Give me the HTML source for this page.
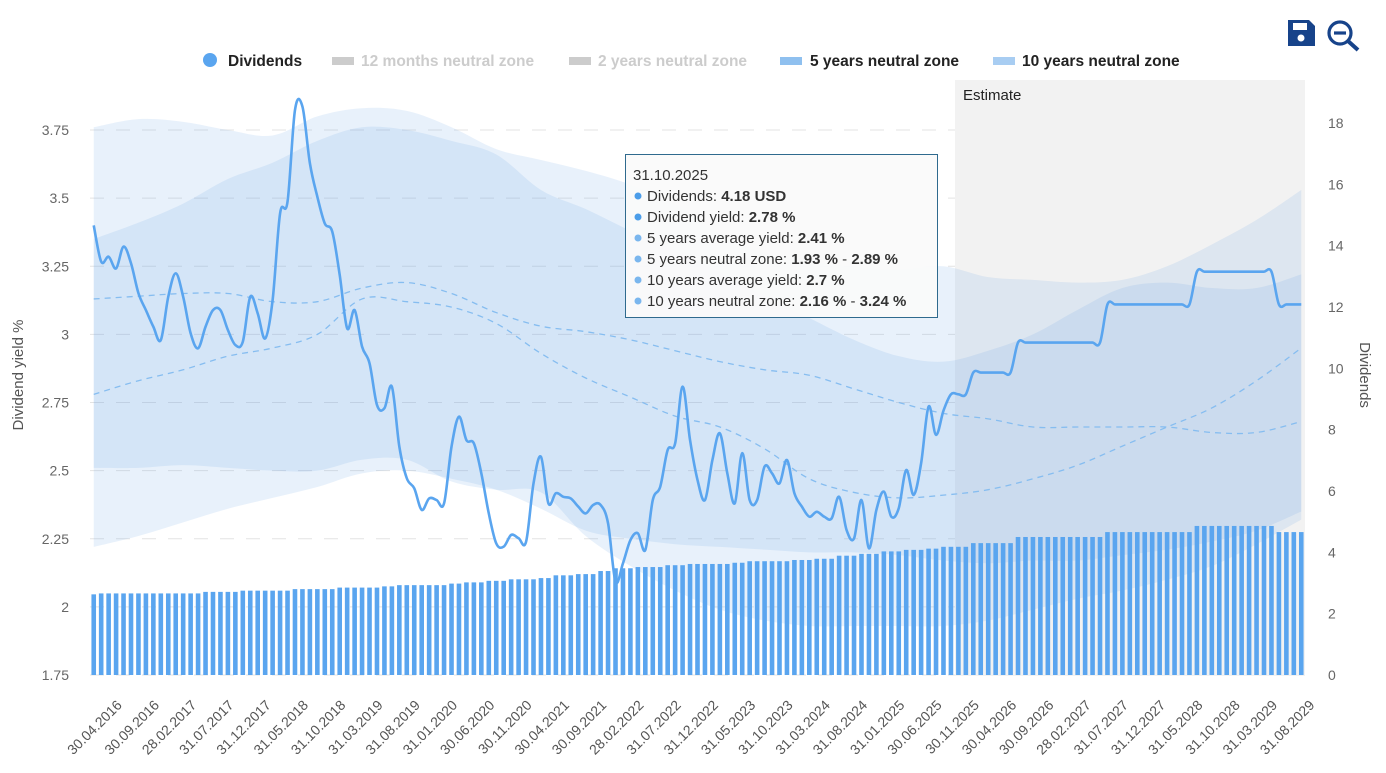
<!DOCTYPE html>
<html><head><meta charset="utf-8"><style>
body{margin:0;background:#fff;}
svg{display:block;font-family:"Liberation Sans",Arial,sans-serif;}
</style></head><body>
<svg id="chart" width="1386" height="773" viewBox="0 0 1386 773">
<g id="grid"></g>
<rect x="955" y="80" width="350" height="596" fill="#f2f2f2"></rect>
<text x="963" y="100" font-size="15" fill="#222">Estimate</text>
<g id="bands"></g>
<g id="bars"></g>
<g id="lines"></g>
<g id="yaxisL"></g>
<g id="yaxisR"></g>
<g id="xaxis"></g>
<text transform="translate(23,375) rotate(-90)" text-anchor="middle" font-size="15" fill="#555">Dividend yield %</text>
<text transform="translate(1360,375) rotate(90)" text-anchor="middle" font-size="15" fill="#555">Dividends</text>
<g font-size="15.5" font-weight="bold">
 <g><circle cx="210" cy="60" r="7" fill="#5aa5ef"/><text x="228" y="66" fill="#222">Dividends</text></g>
 <g><rect x="332" y="57" width="22" height="8" fill="#ccc"/><text x="361" y="66" fill="#ccc">12 months neutral zone</text></g>
 <g><rect x="569" y="57" width="22" height="8" fill="#ccc"/><text x="598" y="66" fill="#ccc">2 years neutral zone</text></g>
 <g><rect x="780" y="57" width="22" height="8" fill="#8fc0ef"/><text x="810" y="66" fill="#222">5 years neutral zone</text></g>
 <g><rect x="993" y="57" width="22" height="8" fill="#a8cdf2"/><text x="1022" y="66" fill="#222">10 years neutral zone</text></g>
</g>
<g>
 <path d="M1288 20h21l6 6v20h-27z" fill="#17438a"/><rect x="1293" y="23" width="14" height="7" fill="#fff"/><circle cx="1301" cy="38" r="3.5" fill="#fff"/>
</g>
<g fill="none" stroke="#17438a" stroke-width="3.2">
 <circle cx="1340" cy="33" r="11"/><line x1="1334" y1="33" x2="1346" y2="33"/><line x1="1348" y1="41" x2="1358" y2="50" stroke-width="4"/>
</g>
<g>
 <rect x="625.5" y="154.5" width="312" height="163" fill="#fafafa" fill-opacity="0.96" stroke="#2f6a8e"/>
 <g font-size="15" fill="#333">
 <text x="633" y="180">31.10.2025</text>
 <circle cx="638" cy="196" r="3.5" fill="#4b9de9"/><text x="647" y="201">Dividends: <tspan font-weight="bold">4.18 USD</tspan></text>
 <circle cx="638" cy="217" r="3.5" fill="#4b9de9"/><text x="647" y="222">Dividend yield: <tspan font-weight="bold">2.78 %</tspan></text>
 <circle cx="638" cy="238" r="3.5" fill="#7ab6ee"/><text x="647" y="243">5 years average yield: <tspan font-weight="bold">2.41 %</tspan></text>
 <circle cx="638" cy="259" r="3.5" fill="#7ab6ee"/><text x="647" y="264">5 years neutral zone: <tspan font-weight="bold">1.93 %</tspan> - <tspan font-weight="bold">2.89 %</tspan></text>
 <circle cx="638" cy="280" r="3.5" fill="#7ab6ee"/><text x="647" y="285">10 years average yield: <tspan font-weight="bold">2.7 %</tspan></text>
 <circle cx="638" cy="301" r="3.5" fill="#7ab6ee"/><text x="647" y="306">10 years neutral zone: <tspan font-weight="bold">2.16 %</tspan> - <tspan font-weight="bold">3.24 %</tspan></text>
 </g>
</g>
</svg>
<script>
// monthly dividends (USD), Apr 2016 .. Oct 2029
const dividends=[2.63,2.66,2.66,2.66,2.66,2.66,2.66,2.66,2.66,2.66,2.66,2.66,2.66,2.66,2.66,2.71,2.71,2.71,2.71,2.71,2.75,2.75,2.75,2.75,2.75,2.75,2.75,2.80,2.80,2.80,2.80,2.80,2.80,2.85,2.85,2.85,2.85,2.85,2.85,2.89,2.89,2.93,2.93,2.93,2.93,2.93,2.93,2.93,2.98,2.98,3.02,3.02,3.02,3.07,3.07,3.07,3.12,3.12,3.12,3.12,3.16,3.16,3.25,3.25,3.25,3.29,3.29,3.29,3.39,3.39,3.48,3.48,3.48,3.52,3.52,3.52,3.52,3.58,3.58,3.58,3.62,3.62,3.62,3.62,3.62,3.62,3.66,3.66,3.71,3.71,3.71,3.71,3.71,3.71,3.75,3.75,3.75,3.79,3.79,3.79,3.89,3.89,3.89,3.95,3.95,3.95,4.03,4.03,4.03,4.08,4.08,4.08,4.12,4.12,4.18,4.18,4.18,4.18,4.30,4.30,4.30,4.30,4.30,4.30,4.50,4.50,4.50,4.50,4.50,4.50,4.50,4.50,4.50,4.50,4.50,4.50,4.66,4.66,4.66,4.66,4.66,4.66,4.66,4.66,4.66,4.66,4.66,4.66,4.86,4.86,4.86,4.86,4.86,4.86,4.86,4.86,4.86,4.86,4.86,4.66,4.66,4.66,4.66];
// monthly dividend yield %
const yieldPct=[3.40,3.267,3.285,3.242,3.322,3.261,3.151,3.089,3.028,2.979,3.138,3.224,3.138,3.004,2.949,3.028,3.089,3.089,3.016,2.961,2.973,3.138,3.077,2.985,3.126,3.444,3.487,3.823,3.836,3.628,3.505,3.407,3.377,3.218,3.022,3.089,2.955,2.894,2.741,2.729,2.808,2.588,2.472,2.435,2.356,2.398,2.392,2.380,2.588,2.698,2.612,2.600,2.490,2.343,2.233,2.221,2.264,2.252,2.239,2.453,2.551,2.380,2.417,2.404,2.398,2.368,2.343,2.374,2.374,2.307,2.093,2.160,2.245,2.270,2.209,2.392,2.441,2.576,2.600,2.808,2.612,2.466,2.392,2.539,2.637,2.490,2.380,2.564,2.392,2.392,2.515,2.490,2.453,2.539,2.417,2.368,2.331,2.349,2.331,2.325,2.404,2.282,2.251,2.392,2.215,2.356,2.423,2.331,2.362,2.502,2.411,2.527,2.735,2.631,2.72,2.78,2.78,2.78,2.86,2.86,2.86,2.86,2.86,2.86,2.97,2.97,2.97,2.97,2.97,2.97,2.97,2.97,2.97,2.97,2.97,2.97,3.11,3.11,3.11,3.11,3.11,3.11,3.11,3.11,3.11,3.11,3.11,3.11,3.23,3.23,3.23,3.23,3.23,3.23,3.23,3.23,3.23,3.23,3.23,3.11,3.11,3.11,3.11];
// band samples every 6 months (month index 0,6,...,162)
const bandStep=6;
const tenUpper=[3.76,3.79,3.78,3.75,3.73,3.80,3.83,3.82,3.76,3.68,3.64,3.60,3.55,3.48,3.37,3.30,3.27,3.25,3.24,3.25,3.21,3.20,3.19,3.20,3.25,3.33,3.42,3.53];
const tenLower=[2.22,2.26,2.31,2.36,2.40,2.44,2.49,2.50,2.47,2.43,2.36,2.28,2.25,2.23,2.22,2.21,2.20,2.20,2.19,2.17,2.16,2.17,2.17,2.19,2.21,2.24,2.28,2.35];
const fiveUpper=[3.35,3.41,3.48,3.57,3.63,3.71,3.76,3.75,3.71,3.66,3.53,3.46,3.38,3.31,3.23,3.14,3.06,2.98,2.92,2.90,2.94,3.00,3.09,3.17,3.19,3.17,3.17,3.22];
const fiveLower=[2.51,2.51,2.52,2.51,2.50,2.50,2.54,2.54,2.46,2.43,2.42,2.26,2.15,2.06,1.99,1.95,1.93,1.93,1.93,1.93,1.95,1.99,2.03,2.06,2.10,2.15,2.23,2.32];
const tenAvg=[3.13,3.14,3.15,3.15,3.12,3.12,3.17,3.19,3.15,3.08,3.03,3.01,2.98,2.94,2.90,2.87,2.85,2.80,2.75,2.71,2.69,2.66,2.66,2.66,2.66,2.64,2.64,2.68];
const fiveAvg=[2.78,2.83,2.87,2.92,2.95,3.00,3.13,3.12,3.10,3.04,2.93,2.84,2.77,2.70,2.66,2.58,2.47,2.42,2.40,2.41,2.43,2.47,2.52,2.59,2.66,2.73,2.83,2.95];
const leftTicks=[1.75,2,2.25,2.5,2.75,3,3.25,3.5,3.75];
const leftTickLabels=["1.75","2","2.25","2.5","2.75","3","3.25","3.5","3.75"];
const rightTicks=[0,2,4,6,8,10,12,14,16,18];
const startYear=2016, startMonth=4;

const NS="http://www.w3.org/2000/svg";
const X0=90,X1=1305,N=dividends.length,STEP=(X1-X0)/N;
function xk(k){return X0+STEP*(k+0.5);}
function yL(v){return 130+(3.75-v)*272.5;}
function yR(v){return 675-v*30.67;}
function mk(tag,attrs,parent){const e=document.createElementNS(NS,tag);for(const a in attrs)e.setAttribute(a,attrs[a]);parent.appendChild(e);return e;}
function spline(pts){let d="M"+pts[0][0].toFixed(2)+","+pts[0][1].toFixed(2);
 for(let i=0;i<pts.length-1;i++){const p0=pts[i-1]||pts[i],p1=pts[i],p2=pts[i+1],p3=pts[i+2]||p2;const t=0.17;
  d+="C"+(p1[0]+(p2[0]-p0[0])*t).toFixed(2)+","+(p1[1]+(p2[1]-p0[1])*t).toFixed(2)+" "+(p2[0]-(p3[0]-p1[0])*t).toFixed(2)+","+(p2[1]-(p3[1]-p1[1])*t).toFixed(2)+" "+p2[0].toFixed(2)+","+p2[1].toFixed(2);}
 return d;}
function bandPts(arr){return arr.map((v,i)=>[xk(i*bandStep),yL(v)]);}

const grid=document.getElementById('grid'),yaxL=document.getElementById('yaxisL'),yaxR=document.getElementById('yaxisR');
leftTicks.forEach((v,i)=>{
 const l=mk('line',{x1:X0,x2:X1,y1:yL(v),y2:yL(v),stroke:'#e3e3e3','stroke-dasharray':'14,12','stroke-width':1},grid);
 
 
 const t=mk('text',{x:69,y:yL(v)+5,'text-anchor':'end','font-size':14,fill:'#666'},yaxL);t.textContent=leftTickLabels[i];
 
 
});
rightTicks.forEach(v=>{
 const t=mk('text',{x:1328,y:yR(v)+5,'font-size':14,fill:'#666'},yaxR);t.textContent=String(v);
 
 
});

const bands=document.getElementById('bands');
function area(up,lo,name){
 const u=bandPts(up),l=bandPts(lo).reverse();
 const d=spline(u)+"L"+spline(l).slice(1)+"Z";
 const p=mk('path',{d:d,fill:'rgb(100,160,225)','fill-opacity':0.15},bands);
 
 
}
area(tenUpper,tenLower,'ten-year-neutral-zone');
area(fiveUpper,fiveLower,'five-year-neutral-zone');

const bars=document.getElementById('bars');
dividends.forEach((v,k)=>{
 const r=mk('rect',{x:(xk(k)-2.3).toFixed(2),y:yR(v).toFixed(2),width:4.6,height:(675-yR(v)).toFixed(2),fill:'#5aa5ef'},bars);
 
 
});

const lines=document.getElementById('lines');
[[tenAvg,'ten-year-average-line'],[fiveAvg,'five-year-average-line']].forEach(([arr,name])=>{
 const p=mk('path',{d:spline(bandPts(arr)),fill:'none',stroke:'#86bdf0','stroke-width':1.3,'stroke-dasharray':'6,5'},lines);
 
 
});
const yp=mk('path',{d:spline(yieldPct.map((v,k)=>[xk(k),yL(v)])),fill:'none',stroke:'#5aa5ef','stroke-width':2.6,'stroke-linejoin':'round'},lines);



const xa=document.getElementById('xaxis');
const monthEnd=[31,28,31,30,31,30,31,31,30,31,30,31];
for(let k=0;k<N;k+=5){
 const m0=startMonth-1+k,yr=startYear+Math.floor(m0/12),m=m0%12;
 let d=monthEnd[m];if(m===1&&yr%4===0)d=29;
 const s=String(d).padStart(2,'0')+"."+String(m+1).padStart(2,'0')+"."+yr;
 const x=xk(k)+29,y=706;
 const t=mk('text',{x:x,y:y,'text-anchor':'end','font-size':14,fill:'#555',transform:'rotate(-45 '+x+' '+y+')'},xa);
 t.textContent=s;
 
 
}
</script>
</body></html>
